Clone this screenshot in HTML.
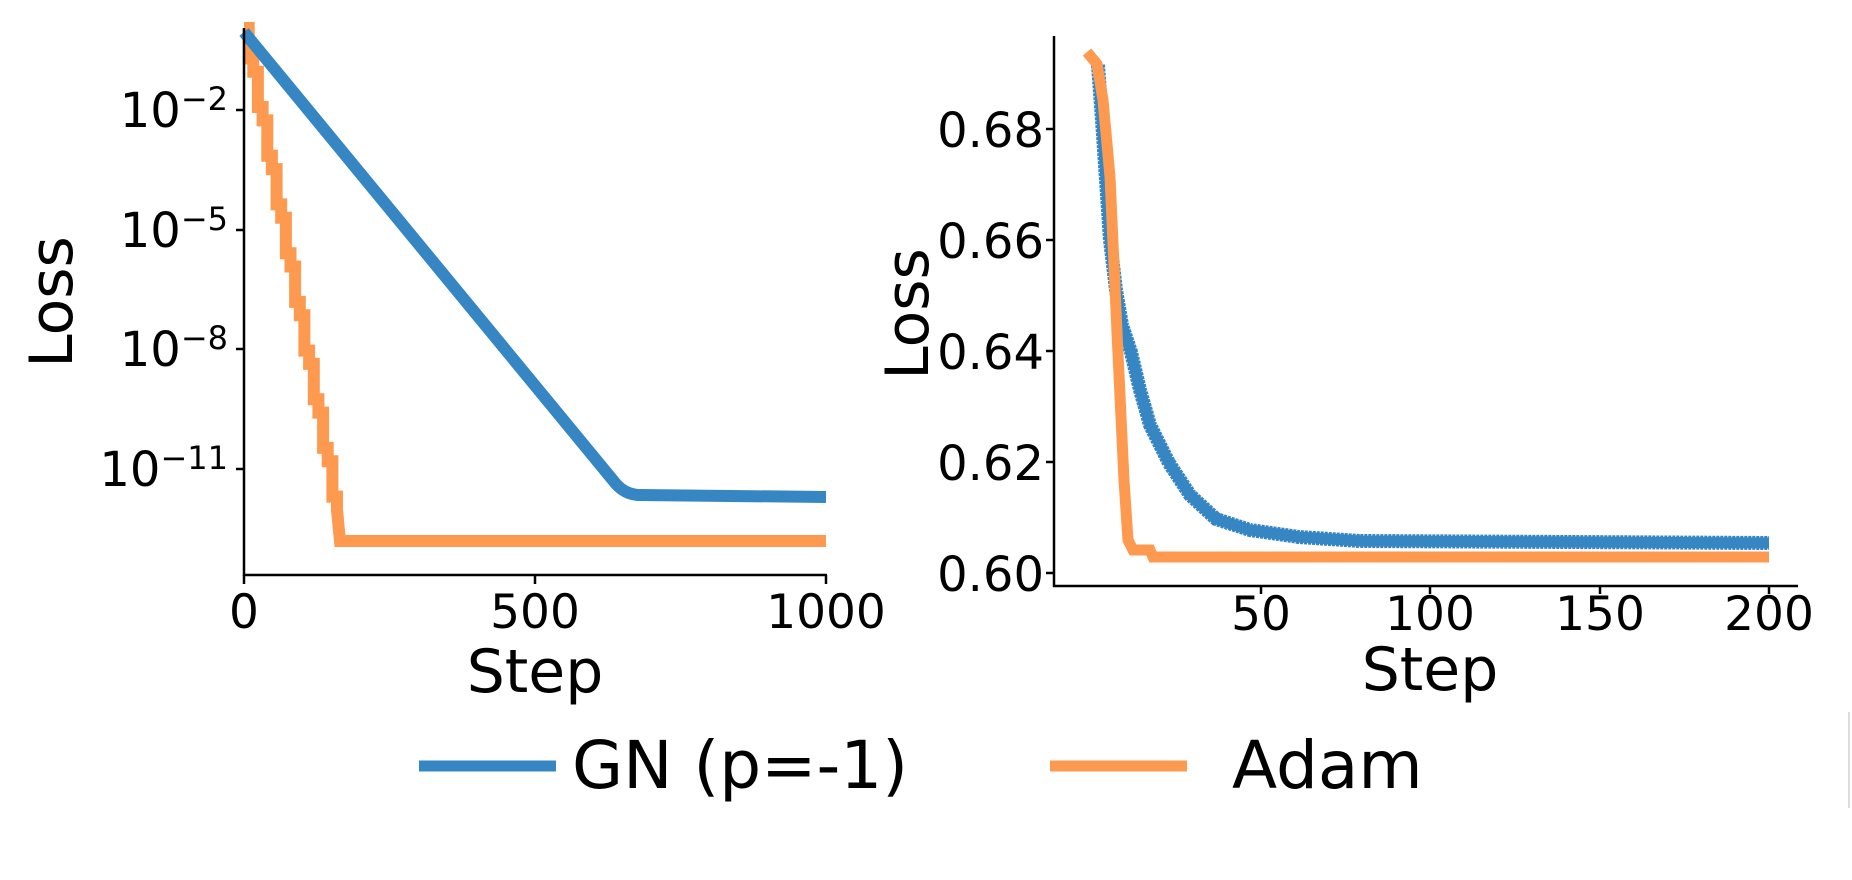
<!DOCTYPE html>
<html><head><meta charset="utf-8"><style>
html,body{margin:0;padding:0;background:#fff;}
svg{display:block;font-family:"DejaVu Sans","Liberation Sans",sans-serif;}
</style></head><body>
<svg id="s" width="1852" height="880" viewBox="0 0 1852 880" xmlns="http://www.w3.org/2000/svg">
<rect width="1852" height="880" fill="#fff"/>
<!-- Left plot -->
<path id="adamL" fill="none" stroke="#fd9a50" stroke-width="12" stroke-linejoin="miter"/>
<path d="M244,32 L616,484 Q626,495 640,495 L826,497" fill="none" stroke="#3586c3" stroke-width="12"/>
<g stroke="#000" stroke-width="2.5" fill="none">
<line x1="244" y1="28" x2="244" y2="576"/>
<line x1="243" y1="575" x2="827" y2="575"/>
<line x1="244" y1="575" x2="244" y2="584"/><line x1="535" y1="575" x2="535" y2="584"/><line x1="826" y1="575" x2="826" y2="584"/>
<line x1="236" y1="110" x2="244" y2="110"/><line x1="236" y1="230" x2="244" y2="230"/><line x1="236" y1="349" x2="244" y2="349"/><line x1="236" y1="469" x2="244" y2="469"/>
</g>
<g font-size="48" fill="#000" text-anchor="end">
<text x="228" y="127">10<tspan font-size="32" dy="-17">−2</tspan></text>
<text x="228" y="247">10<tspan font-size="32" dy="-17">−5</tspan></text>
<text x="228" y="366">10<tspan font-size="32" dy="-17">−8</tspan></text>
<text x="228" y="486">10<tspan font-size="32" dy="-17">−11</tspan></text>
</g>
<g font-size="47" fill="#000" text-anchor="middle">
<text x="244" y="628">0</text><text x="535" y="628">500</text><text x="826" y="628">1000</text>
<text x="1261" y="630">50</text><text x="1430" y="630">100</text><text x="1600" y="630">150</text><text x="1769" y="630">200</text>
</g>
<g font-size="60" fill="#000" text-anchor="middle">
<text x="535" y="692">Step</text><text x="1430" y="690">Step</text>
<text transform="translate(72,302) rotate(-90)">Loss</text>
<text transform="translate(928,314) rotate(-90)">Loss</text>
</g>
<!-- Right plot -->
<path d="M1098,65 L1102,120 L1106,180 L1110,240 L1116,290 L1122,325 L1131,352 L1140,390 L1150,425 L1169,463 L1190,495 L1216,519 L1250,530 L1299,537 L1360,541 L1769,543" fill="none" stroke="#3586c3" stroke-width="14" stroke-dasharray="3 1"/>
<path d="M1098,65 L1102,120 L1106,180 L1110,240 L1116,290 L1122,325 L1131,352 L1140,390 L1150,425 L1169,463 L1190,495 L1216,519 L1250,530 L1299,537 L1360,541 L1769,543" fill="none" stroke="#3586c3" stroke-width="11"/>
<path d="M1087,52 L1097,64 L1103,100 L1110,177 L1118,354 L1124,480 L1128,540 L1133,550 L1150,550 L1153,557 L1769,557" fill="none" stroke="#fd9a50" stroke-width="11"/>
<g stroke="#000" stroke-width="2.5" fill="none">
<line x1="1054" y1="36" x2="1054" y2="587"/>
<line x1="1053" y1="586" x2="1798" y2="586"/>
<line x1="1046" y1="129" x2="1054" y2="129"/><line x1="1046" y1="240" x2="1054" y2="240"/><line x1="1046" y1="351" x2="1054" y2="351"/><line x1="1046" y1="462" x2="1054" y2="462"/><line x1="1046" y1="573" x2="1054" y2="573"/>
<line x1="1261" y1="586" x2="1261" y2="594"/><line x1="1430" y1="586" x2="1430" y2="594"/><line x1="1600" y1="586" x2="1600" y2="594"/><line x1="1769" y1="586" x2="1769" y2="594"/>
</g>
<g font-size="48" fill="#000" text-anchor="end">
<text x="1044" y="147">0.68</text><text x="1044" y="258">0.66</text><text x="1044" y="369">0.64</text><text x="1044" y="480">0.62</text><text x="1044" y="591">0.60</text>
</g>
<!-- Legend -->
<line x1="419" y1="766" x2="556" y2="766" stroke="#3586c3" stroke-width="11"/>
<line x1="1050" y1="766" x2="1187" y2="766" stroke="#fd9a50" stroke-width="11"/>
<g font-size="66" fill="#000">
<text x="572" y="788">GN (p=-1)</text>
<text x="1232" y="788">Adam</text>
</g>
<line x1="1849" y1="712" x2="1849" y2="808" stroke="#ddd" stroke-width="2"/>
</svg>
<script>
(function(){
  var y=28, n=20, x0=244, xEnd=337, yEnd=515;
  var d="M"+x0+","+y;
  for(var i=1;i<=n;i++){
    var nx=x0+(xEnd-x0)*i/n;
    var ny=28+(yEnd-28)*i/n+(i%2?6:-5);
    d+=" L"+nx.toFixed(1)+","+y.toFixed(1)+" L"+nx.toFixed(1)+","+ny.toFixed(1);
    y=ny;
  }
  d+=" L340,541 L826,541";
  document.getElementById("adamL").setAttribute("d",d);
})();
</script>
</body></html>
